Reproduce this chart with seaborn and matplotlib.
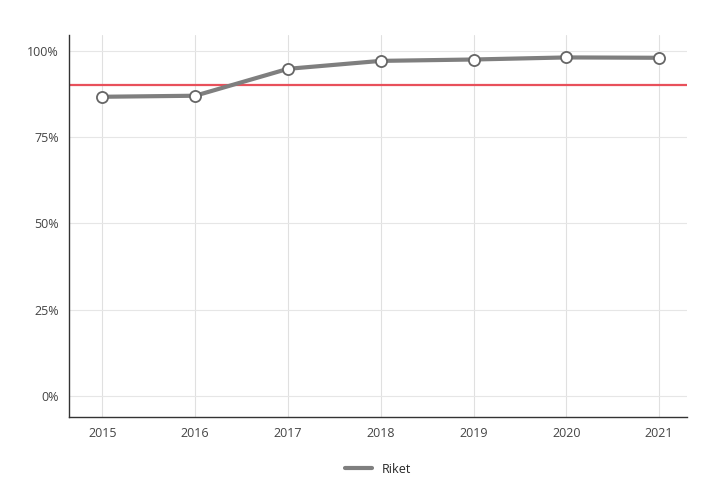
import matplotlib
matplotlib.use("Agg")
import matplotlib.pyplot as plt
import seaborn as sns
import pandas as pd
from matplotlib.ticker import FuncFormatter

years = [2015, 2016, 2017, 2018, 2019, 2020, 2021]
riket = [0.867, 0.870, 0.948, 0.971, 0.975, 0.981, 0.980]
target = 0.90

sns.set_style("white")
plt.rcParams['font.family'] = ['Open Sans', 'DejaVu Sans']

df = pd.DataFrame({'year': years, 'value': riket})

fig = plt.figure(figsize=(7.05, 4.92), dpi=100)
ax = fig.add_axes([69 / 705, 75 / 492, 618 / 705, 382 / 492])

for x in years:
    ax.axvline(x, color='#e0e0e0', lw=0.8, zorder=0)
for y in [0, 0.25, 0.5, 0.75, 1.0]:
    ax.axhline(y, color='#e6e6e6', lw=0.8, zorder=0)

ax.axhline(target, color='#e8505b', lw=1.6, zorder=1)
sns.lineplot(data=df, x='year', y='value', ax=ax, color='#7f7f7f', lw=3,
             marker='o', markersize=8, markerfacecolor='white',
             markeredgecolor='#666666', markeredgewidth=1.3, label='Riket', zorder=3)

ax.set_xlim(2014.64, 2021.3)
ax.set_ylim(-0.061, 1.046)
ax.set_xticks(years)
ax.set_yticks([0, 0.25, 0.5, 0.75, 1.0])
ax.yaxis.set_major_formatter(FuncFormatter(lambda v, p: f"{v*100:.0f}%"))
ax.set_xlabel('')
ax.set_ylabel('')
ax.tick_params(axis='both', labelsize=9, colors='#444444', length=4, color='#333333')
for s in ['top', 'right']:
    ax.spines[s].set_visible(False)
for s in ['left', 'bottom']:
    ax.spines[s].set_color('#333333')
    ax.spines[s].set_linewidth(1)

ax.legend(loc='upper center', bbox_to_anchor=(0.5, -0.09), frameon=False,
          fontsize=9, handlelength=2.2, markerscale=0)
leg = ax.get_legend()
for h in leg.legend_handles:
    h.set_marker('')

fig.savefig('out.png', dpi=100)
